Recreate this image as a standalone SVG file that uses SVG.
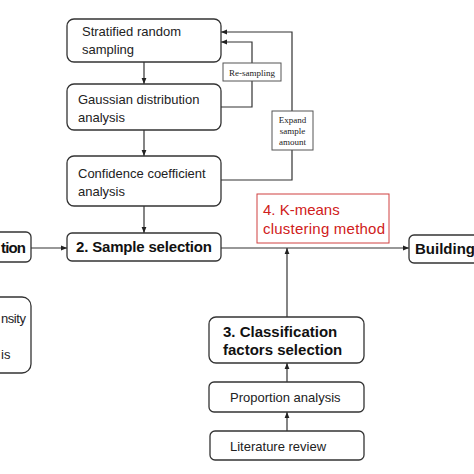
<svg xmlns="http://www.w3.org/2000/svg" width="474" height="474" viewBox="0 0 474 474">
<defs>
<marker id="ah" viewBox="0 0 10 10" refX="10" refY="5" markerWidth="5" markerHeight="5" orient="auto">
<path d="M0,1 L10,5 L0,9 z" fill="#222"/>
</marker>
<style>
.box{fill:#fff;stroke:#333;stroke-width:1.3}
.lab{fill:#fff;stroke:#555;stroke-width:1}
.t{font-family:"Liberation Sans",Arial,sans-serif;font-size:13px;fill:#222}
.b{font-family:"Liberation Sans",Arial,sans-serif;font-size:15px;font-weight:bold;fill:#111}
.s{font-family:"Liberation Serif","Times New Roman",serif;font-size:9px;fill:#222}
.r{font-family:"Liberation Sans",Arial,sans-serif;font-size:15px;fill:#d02020}
.c{fill:none;stroke:#333;stroke-width:1.2}
</style>
</defs>
<rect width="474" height="474" fill="#fff"/>
<g id="connectors">
<line class="c" x1="144" y1="62" x2="144" y2="84" marker-end="url(#ah)"/>
<line class="c" x1="144" y1="130" x2="144" y2="156" marker-end="url(#ah)"/>
<line class="c" x1="144" y1="206" x2="144" y2="233" marker-end="url(#ah)"/>
<line class="c" x1="31" y1="248" x2="67" y2="248" marker-end="url(#ah)"/>
<line class="c" x1="221" y1="248" x2="409" y2="248" marker-end="url(#ah)"/>
<line class="c" x1="287" y1="317" x2="287" y2="248" marker-end="url(#ah)"/>
<line class="c" x1="287" y1="382" x2="287" y2="363" marker-end="url(#ah)"/>
<line class="c" x1="287" y1="431" x2="287" y2="412" marker-end="url(#ah)"/>
<polyline class="c" points="221,107 252,107 252,42 221,42" marker-end="url(#ah)"/>
<polyline class="c" points="221,180 292,180 292,32 221,32" marker-end="url(#ah)"/>
</g>
<g id="resampling">
<rect class="lab" x="223" y="63" width="58" height="18"/>
<text class="s" x="252" y="75.5" text-anchor="middle">Re-sampling</text>
</g>
<g id="expand">
<rect class="lab" x="272" y="111" width="41" height="39"/>
<text class="s" x="292.5" y="123" text-anchor="middle">Expand</text>
<text class="s" x="292.5" y="134" text-anchor="middle">sample</text>
<text class="s" x="292.5" y="145" text-anchor="middle">amount</text>
</g>
<g id="stratified">
<rect class="box" x="67" y="19" width="154" height="43" rx="7"/>
<text class="t" x="82" y="36">Stratified random</text>
<text class="t" x="82" y="54">sampling</text>
</g>
<g id="gaussian">
<rect class="box" x="67" y="84" width="154" height="46" rx="7"/>
<text class="t" x="78" y="104">Gaussian distribution</text>
<text class="t" x="78" y="122">analysis</text>
</g>
<g id="confidence">
<rect class="box" x="67" y="156" width="154" height="50" rx="7"/>
<text class="t" x="78" y="178">Confidence coefficient</text>
<text class="t" x="78" y="196">analysis</text>
</g>
<g id="left1">
<rect class="box" x="-10" y="232" width="41" height="30" rx="5"/>
<text class="b" x="1" y="253" textLength="25">tion</text>
</g>
<g id="left2">
<rect class="box" x="-20" y="297" width="51" height="76" rx="9"/>
<text class="t" x="1" y="323" textLength="25">nsity</text>
<text class="t" x="1" y="359">is</text>
</g>
<g id="sample">
<rect class="box" x="67" y="233" width="154" height="28" rx="5"/>
<text class="b" x="76" y="252" textLength="136">2. Sample selection</text>
</g>
<g id="kmeans">
<rect fill="#fff" stroke="#d04040" stroke-width="1" x="257" y="194" width="132" height="49"/>
<text class="r" x="263" y="215">4. K-means</text>
<text class="r" x="263" y="234" textLength="122">clustering method</text>
</g>
<g id="building">
<rect class="box" x="409" y="235" width="80" height="28" rx="5"/>
<text class="b" x="415" y="254" font-size="16">Building</text>
</g>
<g id="classification">
<rect class="box" x="209" y="317" width="155" height="46" rx="7"/>
<text class="b" x="223" y="337">3. Classification</text>
<text class="b" x="223" y="355">factors selection</text>
</g>
<g id="proportion">
<rect class="box" x="209" y="382" width="155" height="30" rx="5"/>
<text class="t" x="230" y="402">Proportion analysis</text>
</g>
<g id="literature">
<rect class="box" x="210" y="431" width="154" height="29" rx="5"/>
<text class="t" x="230" y="451">Literature review</text>
</g>
</svg>
